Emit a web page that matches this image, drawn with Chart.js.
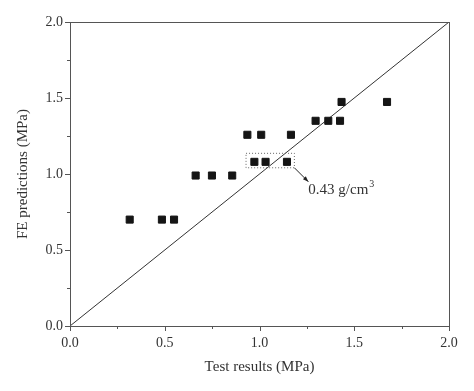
<!DOCTYPE html>
<html>
<head>
<meta charset="utf-8">
<script src="https://cdn.jsdelivr.net/npm/chart.js@4/dist/chart.umd.min.js"></script>
<style>
  html, body { margin: 0; padding: 0; background: #fff; }
  #wrap { width: 474px; height: 391px; }
</style>
</head>
<body>
<div id="wrap"><canvas id="grafico"></canvas></div>
<script>
// valores
const testResults = [0.315, 0.485, 0.549, 0.663, 0.749, 0.856, 0.936, 1.009, 1.166, 0.973, 1.032, 1.145, 1.296, 1.363, 1.425, 1.433, 1.673];
const fePredictions = [0.70, 0.70, 0.70, 0.99, 0.99, 0.99, 1.258, 1.258, 1.258, 1.08, 1.08, 1.08, 1.35, 1.35, 1.35, 1.474, 1.474];
const refLineX = [0, 2];
const refLineY = [0, 2];
const tickLabels = ['0.0', '0.5', '1.0', '1.5', '2.0'];
// caixa pontilhada (em unidades de dados) e rótulo
const boxX = [0.929, 1.184];
const boxY = [1.041, 1.136];
const noteText = '0.43 g/cm';

const serif = "'Liberation Serif', 'Times New Roman', serif";
const textColor = '#333';
const axisColor = '#555';

function labelFor(value) {
    const i = Math.round(value / 0.5);
    if (Math.abs(value - i * 0.5) < 1e-6) return tickLabels[i];
    return '';
}

// moldura, tiques e anotação
const framePlugin = {
    id: 'frame',
    afterDraw(chart) {
        const ctx = chart.ctx;
        const a = chart.chartArea;
        const xs = chart.scales.x, ys = chart.scales.y;
        ctx.save();
        ctx.strokeStyle = axisColor;
        ctx.lineWidth = 1;
        ctx.strokeRect(a.left + 0.5, a.top + 0.5, a.right - a.left, a.bottom - a.top);

        ctx.beginPath();
        xs.ticks.forEach(t => {
            const px = Math.round(xs.getPixelForValue(t.value)) + 0.5;
            const len = labelFor(t.value) ? 5 : 3;
            ctx.moveTo(px, a.bottom);
            ctx.lineTo(px, a.bottom + len);
        });
        ys.ticks.forEach(t => {
            const py = Math.round(ys.getPixelForValue(t.value)) + 0.5;
            const len = labelFor(t.value) ? 5 : 3;
            ctx.moveTo(a.left, py);
            ctx.lineTo(a.left - len, py);
        });
        ctx.stroke();

        // caixa pontilhada
        const bx0 = xs.getPixelForValue(boxX[0]), bx1 = xs.getPixelForValue(boxX[1]);
        const by0 = ys.getPixelForValue(boxY[1]), by1 = ys.getPixelForValue(boxY[0]);
        ctx.setLineDash([1, 2]);
        ctx.strokeStyle = '#666';
        ctx.strokeRect(bx0, by0, bx1 - bx0, by1 - by0);
        ctx.setLineDash([]);

        // seta
        const sx = bx1, sy = by1;
        const ex = sx + 14, ey = sy + 14;
        ctx.strokeStyle = '#222';
        ctx.beginPath();
        ctx.moveTo(sx, sy);
        ctx.lineTo(ex, ey);
        ctx.stroke();
        const ang = Math.atan2(ey - sy, ex - sx);
        ctx.fillStyle = '#222';
        ctx.beginPath();
        ctx.moveTo(ex, ey);
        ctx.lineTo(ex - 6 * Math.cos(ang - 0.35), ey - 6 * Math.sin(ang - 0.35));
        ctx.lineTo(ex - 6 * Math.cos(ang + 0.35), ey - 6 * Math.sin(ang + 0.35));
        ctx.closePath();
        ctx.fill();

        // rótulo
        ctx.fillStyle = textColor;
        ctx.font = '15px ' + serif;
        ctx.textBaseline = 'alphabetic';
        ctx.textAlign = 'left';
        ctx.fillText(noteText, ex, ey + 12);
        const w = ctx.measureText(noteText).width;
        ctx.font = '10px ' + serif;
        ctx.fillText('3', ex + w + 1, ey + 5);
        ctx.restore();
    }
};

const data = {
    datasets: [
        {
            label: 'FE',
            data: testResults.map((x, i) => ({ x: x, y: fePredictions[i] })),
            backgroundColor: '#151515',
            borderColor: '#151515',
            pointStyle: 'rect',
            pointRadius: 5,
            showLine: false
        },
        {
            label: 'Ref',
            type: 'line',
            data: refLineX.map((x, i) => ({ x: x, y: refLineY[i] })),
            borderColor: '#333',
            borderWidth: 1,
            pointRadius: 0,
            fill: false
        }
    ]
};

const config = {
    type: 'scatter',
    data: data,
    options: {
        responsive: true,
        maintainAspectRatio: false,
        animation: false,
        layout: { padding: { left: 0, top: 22, right: 25, bottom: 0 } },
        plugins: {
            legend: { display: false },
            tooltip: { enabled: false }
        },
        scales: {
            x: {
                type: 'linear',
                min: 0,
                max: 2,
                border: { display: false },
                grid: { display: false, drawTicks: false },
                ticks: {
                    stepSize: 0.25,
                    autoSkip: false,
                    maxRotation: 0,
                    padding: 9,
                    color: textColor,
                    font: { family: serif, size: 14 },
                    callback: labelFor
                },
                title: {
                    display: true,
                    text: 'Test results (MPa)',
                    color: textColor,
                    font: { family: serif, size: 15 },
                    padding: { top: 0, bottom: 15 }
                },
                afterFit(scale) { scale.height = 65; }
            },
            y: {
                type: 'linear',
                min: 0,
                max: 2,
                border: { display: false },
                grid: { display: false, drawTicks: false },
                ticks: {
                    stepSize: 0.25,
                    autoSkip: false,
                    padding: 7,
                    color: textColor,
                    font: { family: serif, size: 14 },
                    callback: labelFor
                },
                title: {
                    display: true,
                    text: 'FE predictions (MPa)',
                    color: textColor,
                    font: { family: serif, size: 15 },
                    padding: { top: 14, bottom: 0 }
                },
                afterFit(scale) { scale.width = 70; }
            }
        }
    },
    plugins: [framePlugin]
};

const ctx = document.getElementById('grafico').getContext('2d');
new Chart(ctx, config);
</script>
</body>
</html>
